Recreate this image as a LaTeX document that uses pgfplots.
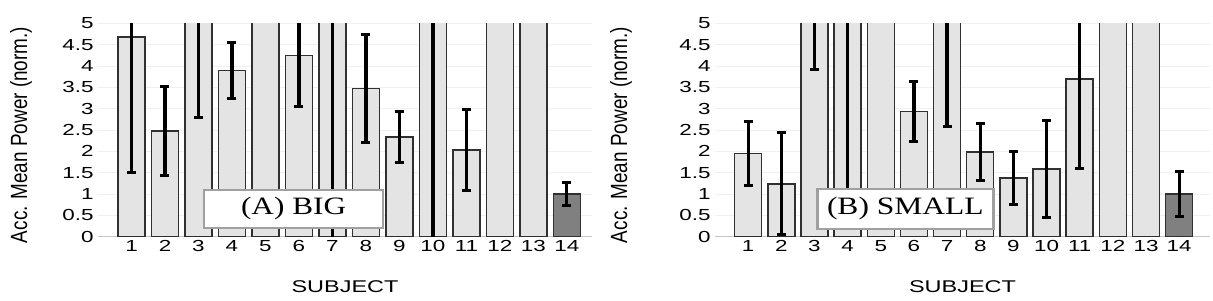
\documentclass[border=0pt]{standalone}
\usepackage{fontspec}
\setmainfont{Liberation Sans}
\newfontfamily\seriffont{Liberation Serif}
\usepackage{pgfplots}
\pgfplotsset{compat=1.18}
\definecolor{barfill}{HTML}{E4E4E4}
\definecolor{darkbar}{HTML}{808080}
\definecolor{edge}{HTML}{303030}
\definecolor{boxedge}{HTML}{A0A0A0}
\tikzset{lbox/.style={draw=boxedge, line width=2.5pt, fill=white, inner sep=0pt,
   font=\seriffont\fontsize{25}{25}\selectfont}}
\pgfplotsset{
 subj/.style={
  scale only axis, height=213.4pt, anchor=south west,
  ymin=0, ymax=5, ytick={0,0.5,...,5}, xmin=0,
  xtick={1,...,14},
  ybar, bar width=27pt, bar shift=0pt,
  ymajorgrids, grid style={gray!12, line width=0.8pt},
  axis x line*=bottom, axis y line*=left,
  y axis line style={draw=none},
  x axis line style={draw=gray!45, line width=0.8pt},
  major tick length=0pt,
  /pgf/number format/assume math mode=true,
  tick label style={font=\fontsize{16}{18}\selectfont},
  xticklabel={\scalebox{1.4}[1]{\pgfmathprintnumber{\tick}}},
  yticklabel={\scalebox{1.4}[1]{\pgfmathprintnumber{\tick}}},
  yticklabel style={xshift=-1pt},
  xlabel={\scalebox{1.38}[1]{SUBJECT}},
  xlabel style={font=\fontsize{17}{19}\selectfont, at={(axis description cs:0.5,0)}, anchor=center, yshift=-50pt},
  ylabel={\scalebox{1.05}[1.3]{Acc. Mean Power (norm.)}},
  ylabel style={font=\fontsize{18}{20}\selectfont, at={(axis description cs:0,0.5)}, anchor=center, rotate=0},
  every axis plot/.append style={draw=edge, line width=1.5pt,
    error bars/y dir=both, error bars/y explicit,
    error bars/error bar style={black, line width=3.2pt},
    error bars/error mark options={rotate=90, mark size=4.5pt, line width=3pt, black}},
 },
}
\begin{document}
\begin{tikzpicture}
\path[use as bounding box] (0,0) rectangle (1213pt,300pt);
\begin{axis}[subj, at={(98pt,63.3pt)}, width=494pt, xmax=14.75,
  ylabel style={yshift=77pt, xshift=-5pt}]
\addplot[fill=barfill] coordinates {
 (1,4.68) +- (0,3.17)
 (2,2.48) +- (0,1.05)
 (3,6.0) +- (0,3.2)
 (4,3.89) +- (0,0.65)
 (5,8.0) +- (0,0.5)
 (6,4.25) +- (0,1.19)
 (7,6.0) +- (0,6.5)
 (8,3.47) +- (0,1.26)
 (9,2.34) +- (0,0.6)
 (10,6.0) +- (0,6.5)
 (11,2.03) +- (0,0.94)
 (12,8.0) +- (0,0.5)
 (13,8.0) +- (0,0.5)
};
\addplot[fill=darkbar] coordinates {(14,1.0) +- (0,0.27)};
\node[lbox, minimum width=179pt, minimum height=38pt] at (axis cs:5.84,0.65) {\scalebox{1.25}[1]{(A) BIG}};
\end{axis}
\begin{axis}[subj, at={(715pt,63.3pt)}, width=495pt, xmax=14.93,
  ylabel style={yshift=94pt, xshift=-5pt}]
\addplot[fill=barfill] coordinates {
 (1,1.95) +- (0,0.75)
 (2,1.24) +- (0,1.2)
 (3,6.0) +- (0,2.08)
 (4,6.0) +- (0,5.4)
 (5,8.0) +- (0,0.5)
 (6,2.93) +- (0,0.7)
 (7,6.0) +- (0,3.42)
 (8,1.99) +- (0,0.67)
 (9,1.37) +- (0,0.62)
 (10,1.59) +- (0,1.14)
 (11,3.69) +- (0,2.09)
 (12,8.0) +- (0,0.5)
 (13,8.0) +- (0,0.5)
};
\addplot[fill=darkbar] coordinates {(14,1.0) +- (0,0.53)};
\node[lbox, minimum width=176pt, minimum height=40pt] at (axis cs:5.74,0.65) {\scalebox{1.26}[1]{(B) SMALL}};
\end{axis}
\end{tikzpicture}
\end{document}
